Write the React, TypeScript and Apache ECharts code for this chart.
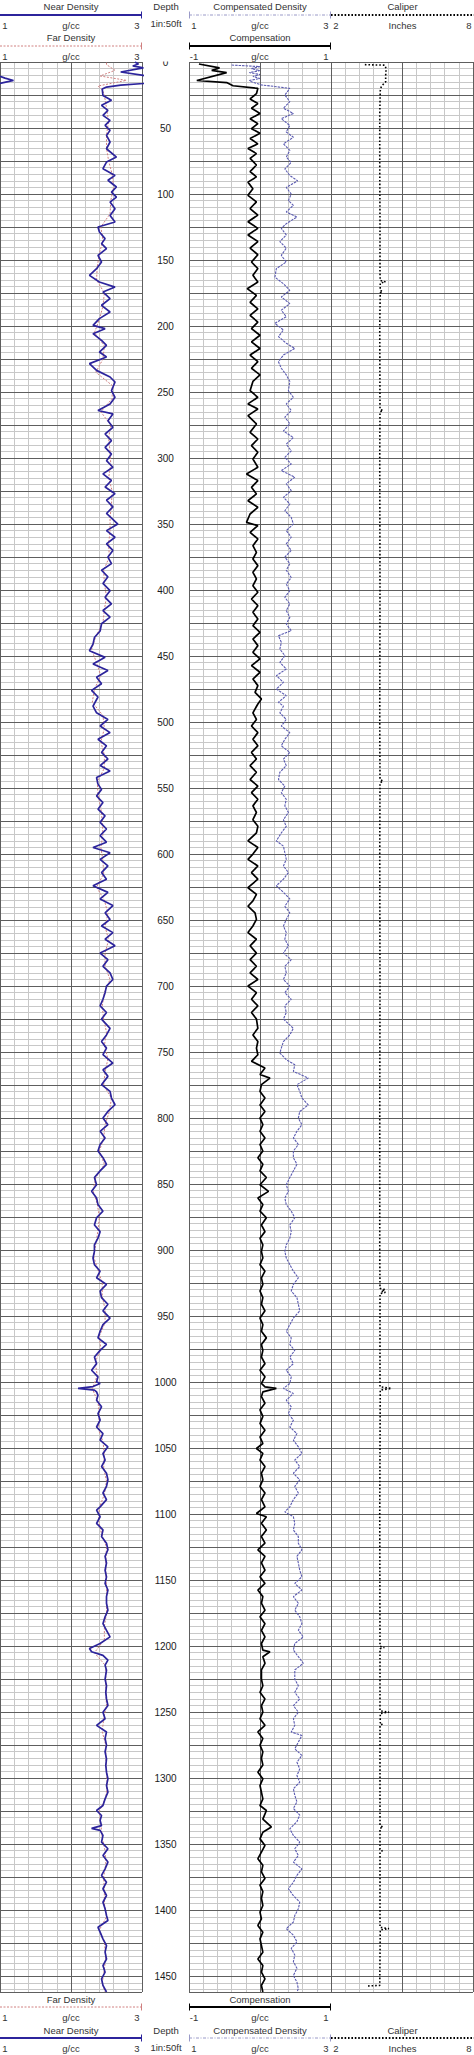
import React, { useEffect, useRef } from "react";
import * as echarts from "echarts";

// ---------- data (depth ft, value) ----------
const DEPTH_MIN = 0;
const DEPTH_MAX = 1462;
const depthLabelStep = 50;

const nearDensity: [number, number][] = [
  [0,2.9],[1.5,2.95],[3,2.87],[4.5,3.02],[7.6,2.7],[10.2,3.02],[13,3.15],[16.3,3.02],[17.5,2.7],[19,2.5],[20.5,2.44],
  [25.3,2.45],[29,2.57],[32.8,2.43],[36.6,2.52],[40.4,2.45],[44.2,2.55],[48,2.48],[51.8,2.55],[55.6,2.5],[60.6,2.55],[65.7,2.5],[72,2.64],[75.8,2.5],[80.8,2.45],[85.9,2.62],[89.6,2.52],[94.7,2.64],[98.5,2.57],[102.3,2.64],[106.1,2.55],[111.1,2.62],[116.2,2.55],[121.2,2.62],[125,2.38],[128.8,2.4],[133.8,2.48],[137.6,2.43],[141.4,2.5],[146.5,2.38],[151.5,2.43],[156.6,2.36],[161.6,2.26],[166.7,2.4],[170.5,2.62],[174.2,2.45],[179.3,2.55],[184.3,2.43],[189.4,2.55],[194.4,2.4],[199.5,2.31],[202,2.48],[205.8,2.31],[210.9,2.43],[214.6,2.5],[219.7,2.4],[223.5,2.5],[228.5,2.26],[233.6,2.36],[238.6,2.55],[242.4,2.62],
  [249,2.57],[254,2.62],[259,2.55],[264,2.38],[266.6,2.59],[271.7,2.52],[276.7,2.59],[281.8,2.48],[286.8,2.57],[291.9,2.48],[297,2.57],[302,2.5],[307,2.59],[312,2.45],[317,2.57],[322,2.48],[327,2.62],[332,2.5],[337,2.59],[342,2.5],[350,2.66],[355,2.5],[360,2.62],[365,2.5],[370,2.59],[375,2.52],[380,2.57],[385,2.43],[390,2.52],[395,2.45],[400.5,2.55],[405.5,2.48],[410.5,2.57],[415.5,2.45],[420.5,2.55],[425.5,2.43],[431,2.41],[436,2.33],[441,2.31],[446,2.26],[451,2.48],[456,2.31],[461,2.52],[466,2.36],[471,2.43],[476,2.29],[481,2.38],
  [488,2.31],[493,2.36],[498,2.52],[503,2.41],[508,2.55],[513,2.38],[518,2.5],[523,2.43],[528,2.52],[533,2.41],[537,2.55],[542,2.36],[547,2.38],[551,2.43],[556,2.36],[561,2.45],[566,2.38],[571,2.48],[576,2.41],[581,2.5],[586,2.41],[591,2.5],[595,2.31],[599,2.55],[604,2.41],[609,2.52],[614,2.43],[619,2.5],[624,2.31],[629,2.52],[634,2.41],[639,2.59],[644.5,2.48],[649.5,2.55],[654.5,2.43],[659.5,2.59],[664.5,2.48],[669.5,2.62],[675,2.41],[680,2.52],[685,2.45],[690,2.55],[695,2.59],[700,2.5],[705,2.48],[710,2.45],[715,2.41],[720,2.5],[725,2.43],
  [732,2.55],[737,2.5],[742,2.43],[747,2.5],[752,2.45],[758.3,2.59],[763.4,2.45],[768.4,2.52],[774.7,2.43],[779.8,2.55],[784.8,2.57],[789.9,2.62],[795,2.52],[800,2.45],[805,2.52],[810,2.41],[815,2.48],[820,2.41],[825,2.38],[830,2.45],[835,2.5],[840,2.41],[845,2.33],[850.5,2.36],[855.5,2.29],[860.5,2.36],[865.5,2.38],[870.5,2.45],[875.5,2.36],[881,2.33],[886,2.41],[891,2.38],[896,2.33],[901,2.33],[906,2.31],[911,2.33],[916,2.41],[921,2.36],[926,2.5],[931,2.41],[936,2.43],[941,2.52],[946,2.45],[951.5,2.55],[956.5,2.45],[961.5,2.41],[966.5,2.38],[971.5,2.5],
  [976,2.41],[981,2.33],[986,2.36],[991,2.29],[996,2.38],[999.8,2.36],[1001,2.41],[1003.4,2.31],[1004.8,2.1],[1006,2.33],[1007.4,2.36],[1010,2.38],[1013.7,2.36],[1018.7,2.43],[1023.8,2.38],[1028.8,2.41],[1034,2.36],[1039,2.45],[1044,2.41],[1049,2.52],[1054,2.45],[1059,2.48],[1064,2.43],[1069,2.5],[1074,2.52],[1079,2.5],[1084,2.45],[1089,2.5],[1094.5,2.41],[1097,2.36],[1102,2.41],[1107,2.36],[1112,2.45],[1117,2.43],[1122,2.5],[1127,2.52],[1132,2.48],[1137,2.5],[1142.5,2.48],[1147.5,2.5],[1152.5,2.48],[1157.5,2.52],[1162.5,2.5],[1167.5,2.5],[1172.8,2.52],[1177.8,2.48],[1183,2.45],[1188,2.5],[1193,2.55],[1198,2.41],[1201.8,2.26],[1204.3,2.29],[1207,2.45],[1210.6,2.52],[1214.4,2.48],[1218.2,2.5],
  [1225,2.48],[1230,2.5],[1235,2.49],[1240,2.5],[1245,2.52],[1250,2.45],[1255,2.48],[1260,2.36],[1265,2.5],[1270,2.48],[1275,2.5],[1280,2.48],[1285.4,2.5],[1290.4,2.49],[1295.5,2.5],[1300.5,2.52],[1305.6,2.5],[1310.6,2.52],[1315.7,2.48],[1320.7,2.45],[1324.5,2.36],[1328.3,2.43],[1332,2.41],[1336,2.43],[1338,2.29],[1339.6,2.41],[1343.4,2.45],[1348.5,2.43],[1353.5,2.52],[1358.6,2.45],[1363.6,2.52],[1368.7,2.48],[1373.7,2.43],[1378.8,2.5],[1383.8,2.45],[1388.9,2.5],[1394,2.45],[1399,2.48],[1404,2.5],[1407.8,2.52],[1413,2.38],[1416.7,2.41],[1421.7,2.45],[1426.8,2.5],[1431.8,2.48],[1437,2.5],[1442,2.45],[1447,2.48],[1452,2.43],[1457,2.45],[1462,2.5]
];

// Near density above 3 g/cc, shown wrapped back into the track (value - 2)
const nearDensityWrap: [number, number][] = [
  [10.8,1.0],[12.2,1.07],[14,1.19],[15.2,1.08],[16.2,1.0]
];

const farDensity: [number, number][] = [
  [0.5,2.5],[2,2.5],[6.3,2.62],[10.6,2.41],[13.9,2.78],[18.2,2.38],[21,2.44],
  [25,2.47],[35,2.5],[45,2.53],[55,2.5],[65,2.5],[75,2.53],[85,2.58],[95,2.6],[105,2.56],[115,2.55],[125,2.42],[135,2.45],[145,2.4],[155,2.37],[165,2.36],[175,2.47],[185,2.45],[195,2.4],[205,2.33],[215,2.47],[225,2.45],[235,2.35],[245,2.58],[255,2.58],[265,2.42],[275,2.56],[285,2.53],[295,2.55],[305,2.56],[315,2.53],[325,2.58],[335,2.57],[345,2.55],[355,2.55],[365,2.53],[375,2.54],[385,2.46],[395,2.47],[405,2.5],[415,2.47],[425,2.45],[435,2.35],[445,2.29],[455,2.36],[465,2.42],[475,2.33],[485,2.3],[495,2.45],[505,2.47],[515,2.42],[525,2.47],[535,2.47],[545,2.37],[555,2.38],[565,2.42],[575,2.44],[585,2.45],[595,2.42],[605,2.45],[615,2.46],[625,2.36],[635,2.47],[645,2.52],[655,2.48],[665,2.53],[675,2.48],[685,2.48],[695,2.55],[705,2.47],[715,2.44],[725,2.46],[735,2.5],[745,2.47],[755,2.52],[765,2.48],[775,2.46],[785,2.57],[795,2.54],[805,2.48],[815,2.46],[825,2.4],[835,2.47],[845,2.35],[855,2.31],[865,2.37],[875,2.4],[885,2.38],[895,2.35],[905,2.32],[915,2.38],[925,2.44],[935,2.44],[945,2.48],[955,2.48],[965,2.4],[975,2.42],[985,2.34],[995,2.37],[1005,2.3],[1015,2.38],[1025,2.4],[1035,2.38],[1045,2.45],[1055,2.47],[1065,2.46],[1075,2.5],[1085,2.47],[1095,2.4],[1105,2.39],[1115,2.43],[1125,2.5],[1135,2.49],[1145,2.49],[1155,2.5],[1165,2.5],[1175,2.5],[1185,2.47],[1195,2.47],[1205,2.33],[1215,2.49],[1225,2.49],[1235,2.49],[1245,2.5],[1255,2.46],[1265,2.44],[1275,2.49],[1285,2.49],[1295,2.5],[1305,2.51],[1315,2.49],[1325,2.4],[1335,2.42],[1345,2.44],[1355,2.48],[1365,2.49],[1375,2.46],[1385,2.47],[1395,2.47],[1405,2.5],[1415,2.4],[1425,2.47],[1435,2.49],[1445,2.47],[1455,2.44],[1462,2.48]
];

const compensation: [number, number][] = [
  [1.5,-0.86],[4.5,-0.57],[6.3,-0.68],[8,-0.47],[14,-0.89],[15.6,-0.47],[18,-0.38],[20,-0.03],
  [24,-0.05],[28,-0.14],[31.5,-0.03],[35,-0.12],[39,0],[43,-0.14],[46.7,-0.03],[50.5,-0.12],[54,0],[58,-0.14],[62,-0.03],[65.6,-0.17],[69.4,-0.05],[73,-0.14],[78,-0.05],[83,-0.14],[87,-0.05],[91,-0.17],[96,-0.1],[101,-0.17],[106,-0.05],[111,-0.14],[116,-0.03],[121,-0.17],[126,-0.03],[131,-0.17],[136,-0.03],[141,-0.14],[146,-0.03],[151.5,-0.12],[156.5,-0.03],[161.6,-0.1],[166.7,-0.03],[171.7,-0.18],[176.8,-0.05],[182,-0.14],[187,-0.03],[192,-0.14],[197,-0.03],[202,-0.12],[207,0],[212,-0.12],[217,0],[222,-0.14],[227,-0.03],[232,-0.12],[237,0],[242,-0.1],
  [249,-0.14],[254,-0.03],[259,-0.17],[262.8,-0.03],[267.9,-0.17],[274.2,-0.05],[280.5,-0.14],[285.6,-0.03],[290.6,-0.12],[295.7,-0.03],[300.7,-0.1],[307,-0.03],[312.1,-0.19],[317.1,-0.03],[322.2,-0.12],[327.2,-0.05],[332.3,-0.17],[337.3,-0.03],[342.4,-0.14],[348.7,-0.19],[351.2,-0.03],[356.3,-0.14],[361.3,-0.03],[366.4,-0.1],[371.4,-0.05],[376.5,-0.1],[381.5,-0.03],[386.6,-0.1],[391.6,-0.05],[396.7,-0.1],[401.7,-0.03],[406.8,-0.12],[411.8,-0.03],[416.9,-0.1],[421.9,-0.03],[427,-0.1],[432,0],[437.1,-0.1],[442.1,-0.03],[447.2,-0.1],[452.2,0],[457.3,-0.12],[462.3,0],[467.4,-0.1],[472.4,-0.03],[477.5,-0.07],[482.5,0.02],[486.3,-0.03],
  [493,-0.1],[498,-0.05],[503,-0.12],[508,-0.03],[513,-0.1],[518,-0.03],[523,-0.12],[528,-0.05],[533,-0.14],[538,-0.05],[543.5,-0.14],[548.5,-0.03],[553.5,-0.12],[558.5,-0.03],[563.5,-0.1],[568.5,-0.05],[574,-0.1],[579,-0.03],[584,-0.05],[590,-0.17],[595,-0.03],[600,-0.1],[604,-0.17],[609,-0.03],[614,-0.12],[619,-0.03],[625.5,-0.17],[630.5,-0.05],[635.5,-0.1],[639.5,-0.17],[644.5,-0.07],[649.5,-0.05],[654.5,-0.1],[659.5,-0.17],[664.5,-0.05],[669.5,-0.14],[675,-0.05],[680,-0.14],[685,-0.05],[690,-0.14],[695,-0.03],[700,-0.17],[705,-0.05],[710,-0.12],[715,-0.03],[720,-0.12],[725,-0.05],
  [732,-0.03],[737,-0.1],[742,-0.03],[747,-0.05],[752,-0.03],[757,-0.12],[762,0.07],[767,0],[769.7,0.14],[774.7,0.02],[779.8,0],[784.8,0.07],[790,0],[795,0.07],[800,0],[805,0.04],[810,0],[815,0.07],[820,0],[825,0.04],[830,-0.03],[835,0.04],[840,0],[845,0.09],[850.5,0],[855.5,0.12],[860.5,-0.03],[865.5,0.04],[870.5,0],[875.5,0.09],[881,0.02],[886,0.07],[891,0],[896,0.04],[901,0.02],[906,0.04],[911,0],[916,0.07],[921,0.02],[926,0.04],[931,0],[936,0.04],[941,0.02],[946,0.07],[951.5,0],[956.5,0.04],[961.5,0.02],[966.5,0.09],[971.5,0.02],
  [976,0.04],[981,0.02],[986,0.07],[991,0],[996,0.07],[1001,0.02],[1003.6,0.07],[1004.8,0.23],[1007.4,0.04],[1011,0.02],[1016,0.07],[1021,0],[1026,0.04],[1031.4,0],[1036.4,0.07],[1041.5,0],[1046.5,0.04],[1050.3,-0.05],[1054,0.04],[1059,0],[1064,0.07],[1069,0.02],[1074,0.04],[1079,0],[1084,0.07],[1089,0.02],[1094.5,0.07],[1099.5,-0.05],[1102,0.09],[1107,0.02],[1112,0.09],[1117,0.02],[1122,0.07],[1127,-0.03],[1132,0.07],[1137,0.02],[1142.5,0.07],[1147.5,0],[1152.5,0.07],[1157.5,-0.03],[1162.5,0.04],[1167.5,0.02],[1172.8,0.07],[1177.8,0],[1183,0.07],[1188,0.02],[1193,0.07],[1198,0.02],[1203,0.04],[1204.3,0.14],[1208,0.04],[1213,0.07],[1218,0.02],
  [1225,0.02],[1230,0.04],[1235,0],[1240,0.07],[1245,0.02],[1250,0.04],[1255,0],[1260,0.07],[1265,-0.03],[1270,0.04],[1275,0],[1280,0.04],[1285,0.02],[1290,0.04],[1295.5,-0.03],[1300.5,0.04],[1305.6,0],[1310.6,0.02],[1315.7,0.04],[1320.7,0],[1324.5,0.09],[1331,0.04],[1337,0.16],[1341,0.04],[1346,0],[1351,0.07],[1356,0.02],[1361,-0.03],[1366,0.04],[1371,0.02],[1376,0.07],[1381,0],[1386,0.04],[1391,0.02],[1396.5,0.04],[1401.5,0],[1406.6,0.02],[1411.6,-0.03],[1416.7,0.04],[1421.7,0],[1426.8,0.02],[1431.8,0.04],[1437,-0.03],[1442,0.04],[1447,0.02],[1452,0.07],[1457,0.02],[1462,0.04]
];

const compensatedDensity: [number, number][] = [
  [2.3,1.6],[3.5,2.0],[5,1.88],[6.5,2.0],[8,1.85],[9.5,2.0],[11,1.9],[12.5,2.0],[14,1.85],[15,1.88],[17.4,2.02],[18.5,2.2],[20,2.42],
  [25,2.35],[30,2.42],[35,2.33],[39,2.47],[43,2.3],[48,2.42],[53,2.37],[57,2.47],[62,2.33],[67,2.42],[72,2.37],[76,2.44],[81,2.35],[86,2.42],[90,2.53],[95,2.37],[100,2.44],[105,2.4],[108.6,2.47],[113.6,2.37],[117.4,2.52],[122.5,2.37],[126,2.3],[131,2.37],[136,2.28],[141,2.37],[146.5,2.3],[151.5,2.37],[156.5,2.23],[163,2.21],[168,2.33],[173,2.42],[178,2.3],[183,2.42],[188,2.3],[193,2.37],[198,2.21],[203,2.33],[208,2.26],[213,2.37],[217,2.49],[222,2.33],[227,2.26],[232,2.3],[237,2.37],[242,2.42],
  [249,2.4],[254,2.47],[259,2.37],[264,2.44],[269,2.35],[274,2.42],[279.5,2.33],[284.5,2.47],[289.5,2.37],[294.5,2.44],[299.5,2.35],[304.5,2.44],[309.5,2.3],[314.5,2.49],[319.5,2.37],[324.7,2.44],[329.8,2.33],[334.8,2.42],[339.9,2.35],[344.9,2.44],[350,2.47],[355,2.37],[360,2.44],[365,2.37],[370,2.44],[375,2.35],[380,2.42],[385,2.37],[390.5,2.44],[395.5,2.37],[400.5,2.42],[405.5,2.35],[410.5,2.42],[415.5,2.37],[420.7,2.42],[425.7,2.37],[430.8,2.44],[434.6,2.26],[439.6,2.3],[444.7,2.28],[449.7,2.35],[454.8,2.28],[459.8,2.37],[464.9,2.23],[469.9,2.33],[475,2.23],[480,2.37],[485,2.26],
  [488,2.33],[493,2.28],[498,2.37],[503,2.3],[508,2.42],[513,2.35],[518,2.3],[523,2.42],[528,2.33],[533,2.37],[538,2.28],[543.5,2.26],[548.5,2.35],[553.5,2.3],[558.5,2.37],[563.5,2.35],[568.5,2.4],[574,2.33],[579,2.37],[584,2.3],[590,2.23],[594,2.33],[599,2.35],[604,2.37],[609,2.33],[614,2.4],[619,2.33],[624,2.23],[629,2.33],[634,2.42],[639.5,2.35],[644.5,2.42],[649.5,2.37],[654.5,2.33],[659.5,2.37],[664.5,2.35],[669.5,2.4],[675,2.33],[680,2.44],[685,2.35],[690,2.37],[695,2.33],[700,2.42],[705,2.35],[710,2.44],[715,2.35],[720,2.37],[725,2.33],
  [732,2.47],[737,2.42],[742,2.33],[747,2.3],[750.7,2.28],[755.8,2.37],[759.6,2.49],[764.6,2.47],[769.7,2.68],[774.7,2.52],[779.8,2.56],[784.8,2.59],[790,2.68],[795,2.56],[800,2.54],[805,2.59],[810,2.52],[815,2.47],[820,2.54],[825,2.47],[830,2.47],[835,2.52],[840,2.47],[845,2.42],[850.5,2.37],[855.5,2.4],[860.5,2.35],[865.5,2.37],[870.5,2.44],[875.5,2.49],[881,2.42],[886,2.44],[891,2.42],[896,2.37],[901,2.35],[906,2.37],[911,2.42],[916,2.47],[921,2.54],[926,2.47],[931,2.44],[936,2.52],[941,2.54],[946,2.56],[951.5,2.47],[956.5,2.42],[961.5,2.37],[966.5,2.44],[971.5,2.42],
  [976,2.49],[981,2.42],[986,2.47],[991,2.37],[996,2.44],[1001,2.42],[1004.8,2.33],[1008.6,2.47],[1013.7,2.37],[1018.7,2.44],[1023.8,2.4],[1028.8,2.47],[1034,2.42],[1039,2.52],[1044,2.47],[1049,2.54],[1054,2.59],[1059,2.49],[1064,2.56],[1069,2.47],[1074,2.56],[1079,2.49],[1084,2.54],[1089,2.47],[1094.5,2.42],[1098.3,2.35],[1102,2.47],[1107,2.49],[1112,2.47],[1117,2.54],[1122,2.54],[1127,2.59],[1132,2.52],[1137,2.54],[1142.5,2.56],[1147.5,2.59],[1152.5,2.49],[1157.5,2.59],[1162.5,2.47],[1167.5,2.54],[1172.8,2.49],[1177.8,2.56],[1183,2.59],[1188,2.54],[1193,2.61],[1198,2.49],[1203,2.47],[1208,2.54],[1213,2.61],[1218,2.49],
  [1225,2.49],[1230,2.54],[1235,2.49],[1240,2.56],[1245,2.47],[1250,2.54],[1255,2.47],[1260,2.49],[1265,2.44],[1267.7,2.59],[1272.7,2.54],[1277.8,2.49],[1282.8,2.59],[1288,2.52],[1293,2.56],[1298,2.52],[1303,2.56],[1308,2.47],[1313,2.49],[1318,2.52],[1323,2.47],[1328,2.56],[1333,2.52],[1338.4,2.42],[1343.4,2.47],[1348.5,2.56],[1353.5,2.49],[1358.6,2.54],[1363.6,2.47],[1368.7,2.59],[1373.7,2.52],[1378.8,2.47],[1383.8,2.4],[1389,2.47],[1394,2.56],[1399,2.54],[1404,2.49],[1409,2.47],[1414,2.37],[1419,2.47],[1424,2.52],[1429,2.44],[1434,2.49],[1439,2.47],[1444,2.52],[1449.5,2.47],[1454.5,2.52],[1459.6,2.54],[1462,2.52]
];

const caliper: [number, number][] = [
  [2,3.43],[2.4,4.27],[5,4.33],[10,4.31],[15,4.31],[17,4.2],[19,4.12],[22,4.08],[40,4.06],[80,4.06],[120,4.07],[160,4.07],[165.5,4.08],[166.5,4.3],[167.5,4.08],[173,4.08],[174,4.18],[175,4.08],[200,4.06],[263,4.07],[264,4.2],[265,4.07],[300,4.06],[400,4.07],[500,4.06],[543.5,4.07],[544.7,4.2],[546,4.07],[600,4.06],[700,4.07],[800,4.06],[900,4.06],[929,4.07],[930,4.3],[931,4.12],[932,4.3],[933,4.07],[1003.5,4.07],[1004.8,4.55],[1006,4.08],[1100,4.06],[1200,4.07],[1201,4.25],[1202,4.07],[1249,4.07],[1250,4.45],[1251,4.08],[1258,4.08],[1259,4.18],[1260,4.07],[1336,4.07],[1337,4.2],[1338,4.07],[1354,4.07],[1355,4.17],[1356,4.07],[1413,4.07],[1414,4.45],[1415,4.08],[1457,4.06],[1457.5,3.5]
];

// header / footer scale captions
const nearScale = ["1", "g/cc", "3"];
const farScale = ["1", "g/cc", "3"];
const compDensScale = ["1", "g/cc", "3"];
const compensationScale = ["-1", "g/cc", "1"];
const caliperScale = ["2", "Inches", "8"];
const depthCaption = ["Depth", "1in:50ft"];

// ---------- styles ----------
const FONT = "'Liberation Sans', Arial, Helvetica, sans-serif";
const TXT = "#333333";
const MINOR = "#c8c8c8";
const MAJOR = "#5e5e5e";
const NEAR_C = "#2c249c";
const FAR_C = "#d08080";
const CD_C = "#5a5ab0";
const BLACK = "#000000";

const PLOT_TOP = 62;
const PLOT_H = 1930;

const txt = (text: string, x: number, y: number, align = "center") => ({
  type: "text",
  x,
  y,
  z: 20,
  silent: true,
  style: { text, fontSize: 9.5, fontFamily: FONT, fill: TXT, align, verticalAlign: "middle" },
});

const ln = (x1: number, y1: number, x2: number, y2: number, stroke: string, lineWidth: number, lineDash?: number[]) => ({
  type: "line",
  z: 20,
  silent: true,
  shape: { x1, y1, x2, y2 },
  style: { stroke, lineWidth, lineDash: lineDash || null },
});

function block(
  title: string,
  scale: string[],
  left: number,
  right: number,
  yT: number,
  yL: number,
  yS: number,
  stroke: string,
  width: number,
  dash: number[] | undefined,
  ticks: "right" | "both" | "none"
) {
  const mid = (left + right) / 2;
  const els: any[] = [
    txt(title, mid, yT),
    ln(left, yL, right, yL, stroke, width, dash),
    txt(scale[0], left + 5, yS),
    txt(scale[1], mid, yS),
    txt(scale[2], right - 5, yS),
  ];
  if (ticks === "right" || ticks === "both") els.push(ln(right - 0.5, yL - 3.5, right - 0.5, yL + 3.5, stroke, 1));
  if (ticks === "both") els.push(ln(left + 0.5, yL - 3.5, left + 0.5, yL + 3.5, stroke, 1));
  return els;
}

function buildOption(): any {
  const tracks = [
    { left: 0, width: 142 },
    { left: 142, width: 47 },
    { left: 189, width: 142 },
    { left: 331, width: 142 },
  ];
  const grid = tracks.map((t) => ({ left: t.left, width: t.width, top: PLOT_TOP, height: PLOT_H, containLabel: false }));

  const gridX = (gridIndex: number) => ({
    type: "value",
    gridIndex,
    min: 0,
    max: 10,
    interval: 5,
    position: "top",
    z: 1,
    axisLine: { show: false },
    axisTick: { show: false },
    axisLabel: { show: false },
    splitLine: { show: true, lineStyle: { color: MAJOR, width: 1 } },
    minorTick: { show: false, splitNumber: 5 },
    minorSplitLine: { show: true, lineStyle: { color: MINOR, width: 1 } },
  });
  const dataX = (gridIndex: number, min: number, max: number) => ({
    type: "value",
    gridIndex,
    min,
    max,
    show: false,
    splitLine: { show: false },
  });
  const yBase = (gridIndex: number) => ({
    type: "value",
    gridIndex,
    min: DEPTH_MIN,
    max: DEPTH_MAX,
    inverse: true,
    axisLine: { show: false },
    axisTick: { show: false },
    axisLabel: { show: false },
  });
  const yMinor = (gridIndex: number) => ({
    ...yBase(gridIndex),
    interval: 5,
    z: 0,
    splitLine: { show: true, lineStyle: { color: MINOR, width: 1 } },
  });
  const yMajor = (gridIndex: number) => ({
    ...yBase(gridIndex),
    interval: 25,
    z: 2,
    splitLine: { show: true, lineStyle: { color: MAJOR, width: 1 } },
  });

  const xAxis = [
    gridX(0), // 0
    dataX(0, 1, 3), // 1 density g/cc
    dataX(1, 0, 1), // 2 depth track
    gridX(2), // 3
    dataX(2, 1, 3), // 4 compensated density
    dataX(2, -1, 1), // 5 compensation
    gridX(3), // 6
    dataX(3, 2, 8), // 7 caliper
  ];
  const yAxis = [
    yMinor(0), // 0
    yMajor(0), // 1
    {
      type: "value",
      gridIndex: 1,
      min: DEPTH_MIN,
      max: DEPTH_MAX,
      inverse: true,
      interval: depthLabelStep,
      axisLine: { show: false },
      axisTick: { show: false },
      splitLine: { show: false },
      axisLabel: {
        show: true,
        inside: true,
        margin: 23.5,
        align: "center",
        fontSize: 10,
        fontFamily: FONT,
        color: "#1a1a1a",
        showMaxLabel: false,
        formatter: (v: number) => String(v),
      },
    }, // 2
    yMinor(2), // 3
    yMajor(2), // 4
    yMinor(3), // 5
    yMajor(3), // 6
  ];

  const toXY = (arr: [number, number][]) => arr.map(([d, v]) => [v, d]);
  const lineSeries = (name: string, data: [number, number][], xi: number, yi: number, color: string, width: number, type: any, z: number) => ({
    type: "line",
    name,
    xAxisIndex: xi,
    yAxisIndex: yi,
    data: toXY(data),
    showSymbol: false,
    symbol: "none",
    clip: true,
    z,
    silent: true,
    lineStyle: { color, width, type },
  });

  const series = [
    lineSeries("Far Density", farDensity, 1, 0, FAR_C, 1, [2, 1.5], 4),
    lineSeries("Near Density", nearDensity, 1, 0, NEAR_C, 1.7, "solid", 5),
    lineSeries("Near Density (wrap)", nearDensityWrap, 1, 0, NEAR_C, 1.7, "solid", 5),
    lineSeries("Compensated Density", compensatedDensity, 4, 3, CD_C, 1.1, [2.5, 1], 4),
    lineSeries("Compensation", compensation, 5, 3, BLACK, 1.7, "solid", 5),
    lineSeries("Caliper", caliper, 7, 5, BLACK, 1.6, [1.6, 2], 5),
  ];

  const graphic: any[] = [
    // header
    ...block("Near Density", nearScale, 0, 142, 6, 15, 25, NEAR_C, 2, undefined, "right"),
    ...block("Far Density", farScale, 0, 142, 37, 46, 56, FAR_C, 1, [2, 1.5], "right"),
    ...block("Compensated Density", compDensScale, 189, 331, 6, 15, 25, "#9a9ac8", 1, [3, 1.5, 1, 1.5], "both"),
    ...block("Compensation", compensationScale, 189, 331, 37, 46, 56, BLACK, 2, undefined, "both"),
    ...block("Caliper", caliperScale, 331, 474, 6, 15, 25, BLACK, 1.8, [1.6, 1.8], "none"),
    txt(depthCaption[0], 166, 6),
    txt(depthCaption[1], 166, 23),
    // hide the upper half of the "0" depth label above the plot
    { type: "rect", z: 30, silent: true, shape: { x: 143, y: 50, width: 45, height: 11.6 }, style: { fill: "#ffffff" } },
    // footer
    ...block("Far Density", farScale, 0, 142, 1999, 2007, 2017, FAR_C, 1, [2, 1.5], "right"),
    ...block("Compensation", compensationScale, 189, 331, 1999, 2007, 2017, BLACK, 2, undefined, "both"),
    ...block("Near Density", nearScale, 0, 142, 2030, 2038, 2048, NEAR_C, 2, undefined, "right"),
    ...block("Compensated Density", compDensScale, 189, 331, 2030, 2038, 2048, "#9a9ac8", 1, [3, 1.5, 1, 1.5], "both"),
    ...block("Caliper", caliperScale, 331, 474, 2030, 2038, 2048, BLACK, 1.8, [1.6, 1.8], "none"),
    txt(depthCaption[0], 166, 2030),
    txt(depthCaption[1], 166, 2047),
  ];

  return {
    animation: false,
    backgroundColor: "#ffffff",
    textStyle: { fontFamily: FONT },
    grid,
    xAxis,
    yAxis,
    series,
    graphic,
  };
}

export default function App() {
  const ref = useRef<HTMLDivElement>(null);
  useEffect(() => {
    document.body.style.margin = "0";
    const chart = echarts.init(ref.current as HTMLDivElement, null, { renderer: "svg" });
    chart.setOption(buildOption());
    return () => chart.dispose();
  }, []);
  return <div ref={ref} style={{ width: 474, height: 2055 }} />;
}
